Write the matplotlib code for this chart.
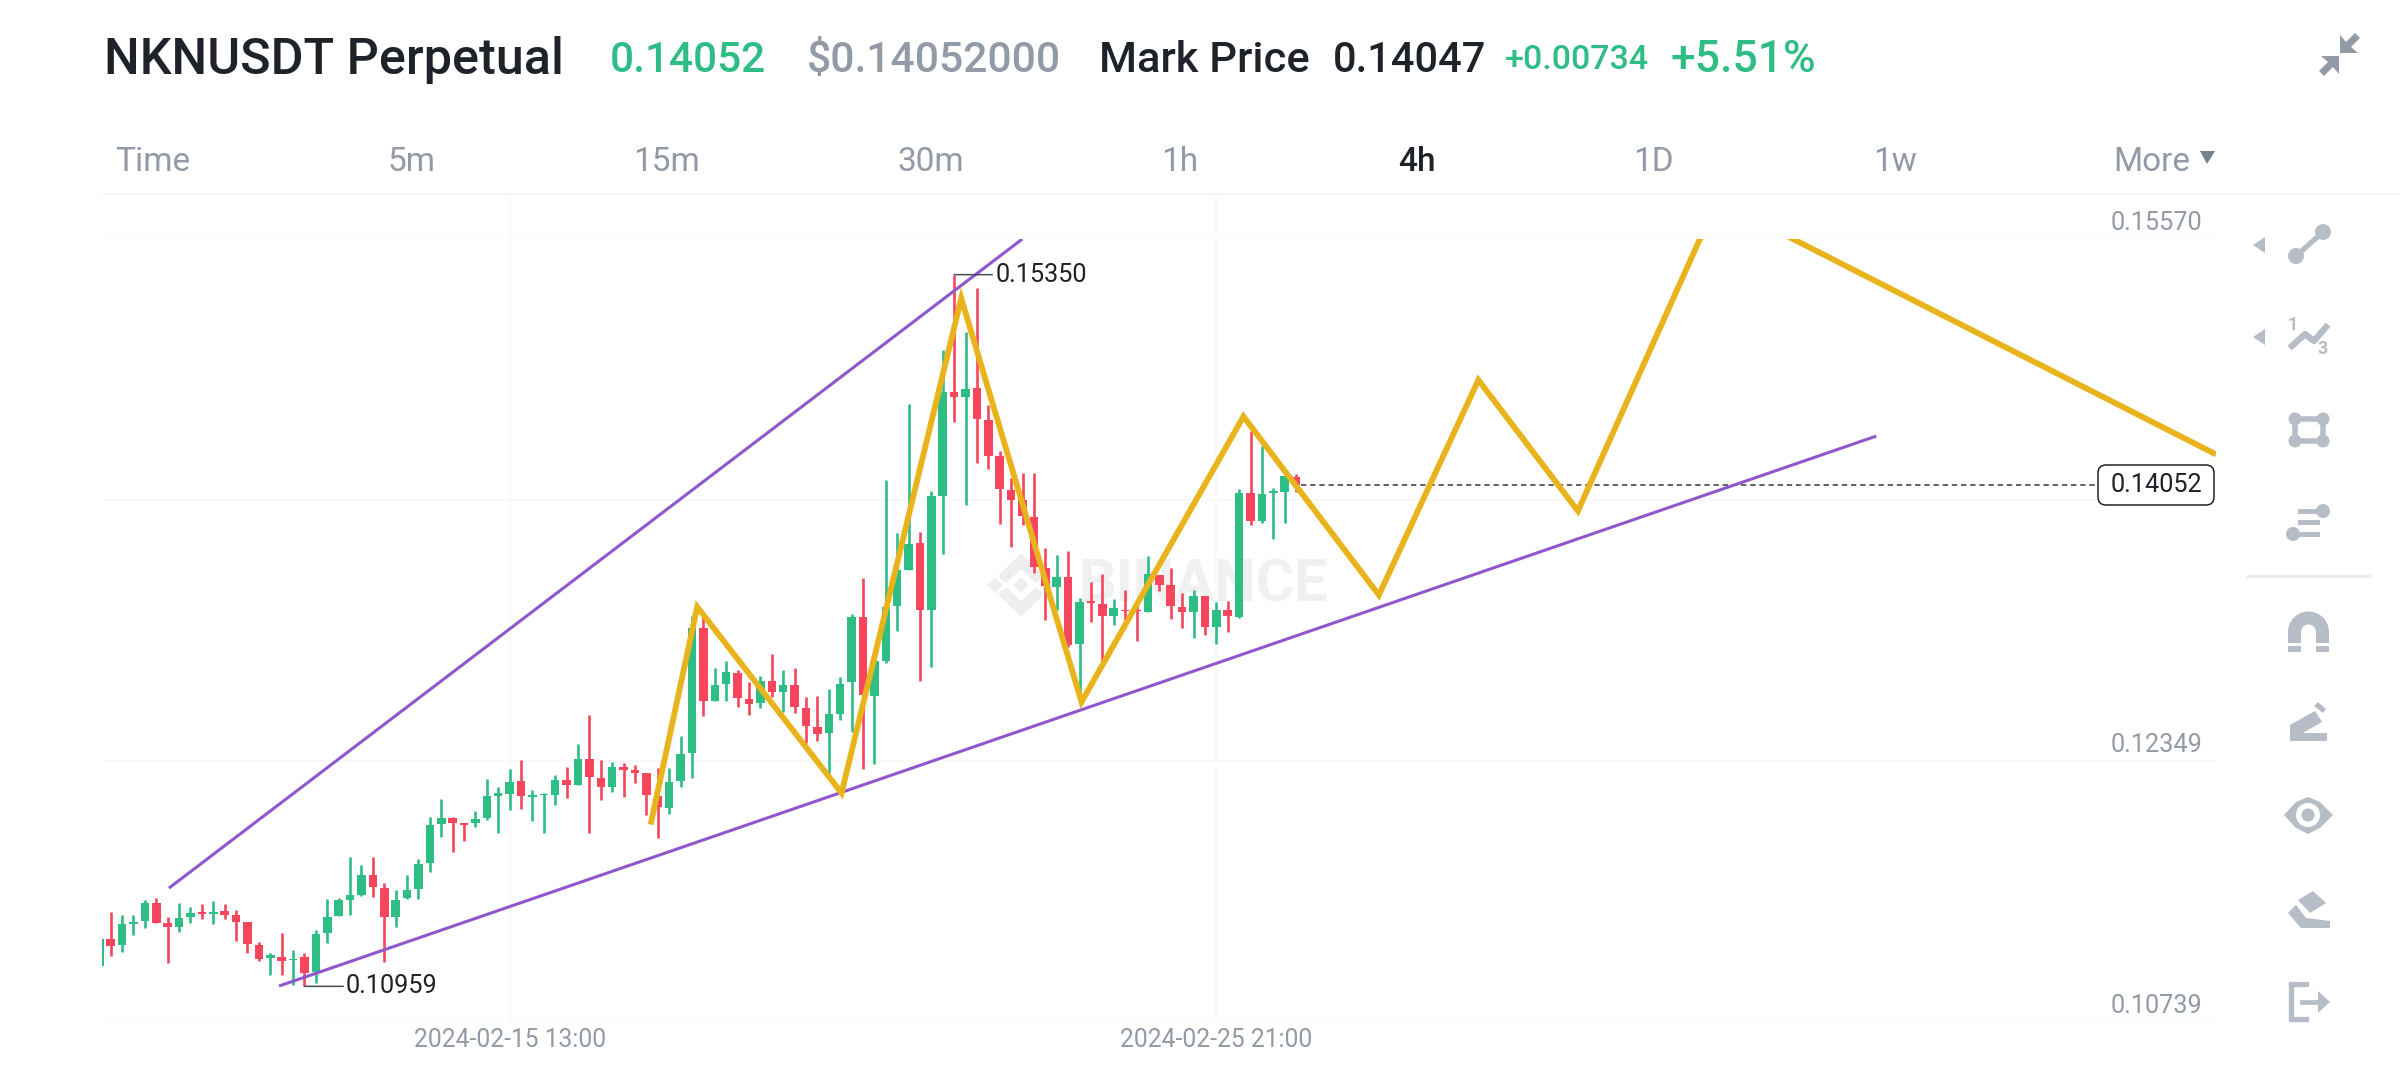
import numpy as np
import matplotlib
matplotlib.use("Agg")
import matplotlib.pyplot as plt
from matplotlib.patches import Circle, Polygon, Rectangle, Wedge, FancyBboxPatch

plt.rcParams["font.family"] = ["Roboto", "DejaVu Sans"]

GREEN = "#2ebd85"
RED = "#f6465d"
YELLOW = "#e9b31c"
PURPLE = "#9056cc"
INK = "#1e2329"
GRAY = "#929aa5"
ICON = "#b7bdc6"
GRID = "#f8f8f8"

# 4h candles, the first one is cut off by the left edge
opens = [
    0.11084,
    0.11249, 0.11212, 0.11345, 0.11362, 0.11473, 0.11347, 0.11325, 0.11386, 0.11415, 0.11407,
    0.11421, 0.11401, 0.11358, 0.11216, 0.11136, 0.11140, 0.11119, 0.11138, 0.11047, 0.11290,
    0.11392, 0.11491, 0.11522, 0.11647, 0.11567, 0.11388, 0.11501, 0.11557, 0.11717, 0.11962,
    0.11999, 0.11966, 0.11966, 0.11999, 0.12134, 0.12147, 0.12223, 0.12128, 0.12138, 0.12142,
    0.12231, 0.12204, 0.12364, 0.12243, 0.12192, 0.12313, 0.12292, 0.12278, 0.12136, 0.12062,
    0.12223, 0.12399, 0.13170, 0.12718, 0.12827, 0.12894, 0.12732, 0.12705, 0.12845, 0.12773,
    0.12818, 0.12679, 0.12557, 0.12522, 0.12640, 0.12835, 0.13235, 0.12748, 0.12964, 0.13307,
    0.13529, 0.13694, 0.13283, 0.13985, 0.14627, 0.14594, 0.14653, 0.14452, 0.14232, 0.14022,
    0.13957, 0.13854, 0.13539, 0.13422, 0.13484, 0.13071, 0.13337, 0.13320, 0.13242, 0.13283,
    0.13283, 0.13267, 0.13499, 0.13435, 0.13302, 0.13267, 0.13366, 0.13174, 0.13279, 0.13238,
    0.14001, 0.13832, 0.14003, 0.14007, 0.14099,
]
highs = [
    0.11249,
    0.11419, 0.11397, 0.11397, 0.11489, 0.11501, 0.11386, 0.11473, 0.11448, 0.11466, 0.11483,
    0.11466, 0.11427, 0.11358, 0.11232, 0.11164, 0.11290, 0.11183, 0.11166, 0.11306, 0.11499,
    0.11505, 0.11758, 0.11705, 0.11758, 0.11598, 0.11555, 0.11649, 0.11746, 0.12005, 0.12116,
    0.12003, 0.11968, 0.12038, 0.12241, 0.12190, 0.12297, 0.12356, 0.12173, 0.12149, 0.12264,
    0.12311, 0.12453, 0.12634, 0.12358, 0.12342, 0.12334, 0.12325, 0.12278, 0.12307, 0.12307,
    0.12502, 0.13242, 0.13252, 0.12921, 0.12966, 0.12909, 0.12837, 0.12872, 0.13009, 0.12913,
    0.12925, 0.12744, 0.12748, 0.12794, 0.12868, 0.13256, 0.13476, 0.12964, 0.14084, 0.13755,
    0.14553, 0.13761, 0.14018, 0.14885, 0.15350, 0.14994, 0.15266, 0.14546, 0.14259, 0.14094,
    0.14125, 0.14125, 0.13663, 0.13622, 0.13642, 0.13355, 0.13454, 0.13505, 0.13349, 0.13407,
    0.13324, 0.13616, 0.13499, 0.13540, 0.13386, 0.13407, 0.13366, 0.13331, 0.13335, 0.14027,
    0.14383, 0.14290, 0.14033, 0.14105, 0.14122,
]
lows = [
    0.11084,
    0.11146, 0.11171, 0.11275, 0.11321, 0.11349, 0.11101, 0.11294, 0.11351, 0.11376, 0.11343,
    0.11372, 0.11240, 0.11166, 0.11117, 0.11029, 0.11029, 0.10967, 0.10959, 0.10981, 0.11228,
    0.11392, 0.11401, 0.11518, 0.11510, 0.11107, 0.11325, 0.11495, 0.11495, 0.11664, 0.11882,
    0.11787, 0.11855, 0.11943, 0.11984, 0.11906, 0.12050, 0.12056, 0.11982, 0.11906, 0.12079,
    0.12124, 0.12204, 0.11906, 0.12110, 0.12161, 0.12130, 0.12214, 0.12015, 0.11875, 0.12025,
    0.12188, 0.12245, 0.12625, 0.12718, 0.12718, 0.12681, 0.12635, 0.12677, 0.12744, 0.12650,
    0.12646, 0.12461, 0.12471, 0.12276, 0.12605, 0.12527, 0.12303, 0.12331, 0.12954, 0.13149,
    0.13529, 0.12841, 0.12929, 0.13628, 0.14438, 0.13930, 0.14187, 0.14152, 0.13811, 0.13667,
    0.13803, 0.13509, 0.13217, 0.13283, 0.13050, 0.12748, 0.13205, 0.12955, 0.13191, 0.13205,
    0.13088, 0.13267, 0.13396, 0.13226, 0.13168, 0.13111, 0.13125, 0.13074, 0.13144, 0.13232,
    0.13803, 0.13816, 0.13721, 0.13818, 0.14007,
]
closes = [
    0.11249,
    0.11207, 0.11341, 0.11358, 0.11471, 0.11349, 0.11325, 0.11382, 0.11413, 0.11403, 0.11419,
    0.11399, 0.11358, 0.11220, 0.11129, 0.11150, 0.11115, 0.11129, 0.11043, 0.11284, 0.11388,
    0.11489, 0.11520, 0.11647, 0.11571, 0.11388, 0.11491, 0.11553, 0.11711, 0.11956, 0.11999,
    0.11964, 0.11953, 0.11993, 0.12136, 0.12149, 0.12221, 0.12132, 0.12138, 0.12147, 0.12231,
    0.12204, 0.12364, 0.12251, 0.12192, 0.12311, 0.12294, 0.12278, 0.12142, 0.12064, 0.12221,
    0.12395, 0.13170, 0.12718, 0.12818, 0.12896, 0.12740, 0.12703, 0.12841, 0.12775, 0.12820,
    0.12681, 0.12563, 0.12518, 0.12637, 0.12827, 0.13235, 0.12755, 0.12964, 0.13299, 0.13525,
    0.13689, 0.13283, 0.13987, 0.14629, 0.14596, 0.14647, 0.14458, 0.14234, 0.14027, 0.13957,
    0.13858, 0.13544, 0.13426, 0.13484, 0.13067, 0.13330, 0.13324, 0.13246, 0.13294, 0.13273,
    0.13273, 0.13501, 0.13437, 0.13304, 0.13267, 0.13366, 0.13176, 0.13281, 0.13242, 0.14003,
    0.13830, 0.13998, 0.14013, 0.14105, 0.14052,
]

# drawing tools on top of the chart: x is a candle number, y a price
wave_x = [47.37, 51.46, 64.12, 74.62, 85.17, 99.38, 111.26, 119.99, 128.72, 140.94, 184.70]
wave_y = [0.11957, 0.13300, 0.12152, 0.15204, 0.12714, 0.14475, 0.13373, 0.14700, 0.13892, 0.15808, 0.14241]
upper_x = [5.11, 79.98]
upper_y = [0.11565, 0.15570]
lower_x = [14.77, 154.90]
lower_y = [0.10961, 0.14354]

price_ticks = [0.10739, 0.12349, 0.13960, 0.15570]
price_labels = ["0.10739", "0.12349", "", "0.15570"]
date_ticks = [35, 97]
date_labels = ["2024-02-15 13:00", "2024-02-25 21:00"]
periods = ["Time", "5m", "15m", "30m", "1h", "4h", "1D", "1w", "More"]
period_x = [153, 412, 667, 931, 1180, 1417, 1653, 1895, 2152]

W, H = 2400, 1080
fig = plt.figure(figsize=(W / 100, H / 100), dpi=100, facecolor="white")

# screen furniture in pixel coordinates, kept underneath the chart
ui = fig.add_axes([0, 0, 1, 1], zorder=0)
ui.set_xlim(0, W)
ui.set_ylim(H, 0)
ui.axis("off")

ui.text(104, 60, "NKNUSDT Perpetual", fontsize=36.3, color=INK, va="center", fontweight="medium")
ui.text(610, 60, "0.14052", fontsize=30.5, color=GREEN, va="center", fontweight="medium")
ui.text(807, 60, "$0.14052000", fontsize=30.7, color=GRAY, va="center", fontweight="medium")
ui.text(1099, 60, "Mark Price", fontsize=31.3, color=INK, va="center", fontweight="medium")
ui.text(1333, 60, "0.14047", fontsize=30, color=INK, va="center", fontweight="medium")
ui.text(1505, 60, "+0.00734", fontsize=24.5, color=GREEN, va="center", fontweight="medium")
ui.text(1670, 60, "+5.51%", fontsize=32, color=GREEN, va="center", fontweight="medium")

for name, px in zip(periods, period_x):
    active = name == "4h"
    ui.text(px, 162, name, fontsize=24, ha="center", va="center",
            color=INK if active else GRAY, fontweight="medium" if active else "normal")
ui.add_patch(Polygon([(2200, 151), (2215, 151), (2207, 164)], color="#76808f", lw=0))
ui.plot([103, W], [193.5, 193.5], color="#f0f1f2", lw=1.2)

# collapse arrows, top right
ui.add_patch(Polygon([(2340, 53), (2340, 35), (2346, 42), (2355, 33), (2360, 38), (2351, 47), (2358, 53)],
                     color=GRAY, lw=0))
ui.add_patch(Polygon([(2339, 56), (2339, 74), (2333, 67), (2324, 76), (2319, 71), (2328, 62), (2321, 56)],
                     color=GRAY, lw=0))

# watermark
logo = "#eceef0"
for cx, cy, r in [(995, 585, 8), (1021, 585, 8), (1047, 585, 8)]:
    ui.add_patch(Polygon([(cx - r, cy), (cx, cy - r), (cx + r, cy), (cx, cy + r)], color=logo, lw=0))
ui.add_patch(Polygon([(1021, 553), (1044, 576), (1036, 583), (1021, 569), (1006, 583), (998, 576)], color=logo, lw=0))
ui.add_patch(Polygon([(1021, 617), (1044, 594), (1036, 587), (1021, 601), (1006, 587), (998, 594)], color=logo, lw=0))
ui.text(1078, 585, "BINANCE", fontsize=42.5, fontweight="bold", color="#eff0f1", va="center")

# toolbar, right side
for y in (245, 337):
    ui.add_patch(Polygon([(2253, y), (2265, y - 8), (2265, y + 8)], color=ICON, lw=0))
ui.plot([2296, 2323], [256, 232], color=ICON, lw=3.8)
ui.add_patch(Circle((2296, 256), 8, color=ICON, lw=0))
ui.add_patch(Circle((2323, 232), 8, color=ICON, lw=0))

ui.plot([2292, 2305, 2314, 2326], [346, 334, 341, 327], color=ICON, lw=4.6)
ui.text(2293, 325, "1", fontsize=13, fontweight="bold", color=ICON, ha="center", va="center")
ui.text(2323, 349, "3", fontsize=13, fontweight="bold", color=ICON, ha="center", va="center")

ui.add_patch(Rectangle((2295, 419), 28, 22, fill=False, ec=ICON, lw=4))
for cx in (2295, 2323):
    for cy in (419, 441):
        ui.add_patch(Circle((cx, cy), 6.5, color=ICON, lw=0))

ui.plot([2300, 2323], [511, 511], color=ICON, lw=3.6)
ui.add_patch(Circle((2323, 511), 7, color=ICON, lw=0))
ui.plot([2300, 2317], [522, 522], color=ICON, lw=3.6)
ui.plot([2293, 2317], [534, 534], color=ICON, lw=3.6)
ui.add_patch(Circle((2293, 534), 7, color=ICON, lw=0))

ui.plot([2248, 2369], [576, 576], color="#eaecef", lw=2.4)

ui.add_patch(Wedge((2308.5, 632), 20.5, 180, 360, width=13, color=ICON, lw=0))
ui.add_patch(Rectangle((2288, 632), 13, 11, color=ICON, lw=0))
ui.add_patch(Rectangle((2316, 632), 13, 11, color=ICON, lw=0))
ui.add_patch(Rectangle((2288, 646), 13, 6, color=ICON, lw=0))
ui.add_patch(Rectangle((2316, 646), 13, 6, color=ICON, lw=0))

ui.add_patch(Polygon([(2290, 741), (2290, 725), (2315, 711), (2322, 722), (2303, 733), (2327, 733), (2327, 741)],
                     color=ICON, lw=0))
ui.add_patch(Polygon([(2314, 706), (2318, 702), (2326, 709), (2323, 713)], color=ICON, lw=0))

ui.add_patch(Polygon([(2284, 815), (2296, 802), (2308, 797), (2320, 802), (2333, 815), (2320, 828), (2308, 834), (2296, 828)],
                     color=ICON, lw=0))
ui.add_patch(Circle((2308, 815), 12, color="white", lw=0))
ui.add_patch(Circle((2308, 815), 6.5, color=ICON, lw=0))

ui.add_patch(Polygon([(2313, 891), (2326, 903), (2310, 913), (2298, 900)], color=ICON, lw=0))
ui.add_patch(Polygon([(2288, 913), (2296, 905), (2306, 918), (2330, 921), (2330, 928), (2301, 928)], color=ICON, lw=0))

ui.plot([2306, 2291, 2291, 2306], [984, 984, 1019, 1019], color=ICON, lw=3.8, solid_joinstyle="miter")
ui.plot([2302, 2319], [1002, 1002], color=ICON, lw=3.4)
ui.add_patch(Polygon([(2318, 991), (2330, 1002), (2318, 1013)], color=ICON, lw=0))

# chart: 11.4 px per candle, price scale is linear
ax = fig.add_axes([102.46 / W, (H - 1022) / H, (2216 - 102.46) / W, (1022 - 239) / H], zorder=1)
ax.patch.set_alpha(0)
for s in ax.spines.values():
    s.set_visible(False)

x = np.arange(len(opens)) - 1
o, h, l, c = map(np.array, (opens, highs, lows, closes))
colors = [GREEN if ci >= oi else RED for oi, ci in zip(o, c)]

ax.vlines(x, l, h, colors=colors, lw=1.9, zorder=3)
ax.bar(x, np.abs(c - o), 0.75, bottom=np.minimum(o, c), color=colors, lw=0, zorder=3)

ax.set_xlim(-0.72, 184.7)
ax.set_ylim(price_ticks[0], price_ticks[-1])

ax.set_yticks(price_ticks)
ax.set_xticks(date_ticks)
ax.set_xticklabels(date_labels, fontsize=17.7, color=GRAY)
ax.tick_params(axis="both", length=0)
ax.tick_params(axis="x", pad=4)
ax.tick_params(axis="y", labelleft=False)
ax.grid(axis="y", color=GRID, lw=1.1, zorder=0)
# vertical grid lines run up to the period bar
ax.vlines(date_ticks, 0, (1022 - 193) / (1022 - 239), transform=ax.get_xaxis_transform(),
          colors=GRID, lw=1.1, zorder=0, clip_on=False)

for val, txt in zip(price_ticks, price_labels):
    ax.annotate(txt, xy=(1, val), xycoords=("axes fraction", "data"), xytext=(-10, 3),
                textcoords="offset points", ha="right", va="bottom", fontsize=18.2, color=GRAY)

ax.plot(lower_x, lower_y, color=PURPLE, lw=2.2, zorder=4, solid_capstyle="butt")
ax.plot(upper_x, upper_y, color=PURPLE, lw=2.2, zorder=4, solid_capstyle="butt")
ax.plot(wave_x, wave_y, color=YELLOW, lw=4.2, zorder=5, solid_capstyle="butt", solid_joinstyle="miter")

# highest and lowest price markers
top = h.argmax()
bot = l.argmin()
ax.annotate(f"{h[top]:.5f}", xy=(x[top], h[top]), xytext=(29.5, 0), textcoords="offset points",
            fontsize=18.2, color=INK, va="center", ha="left", zorder=6,
            arrowprops=dict(arrowstyle="-", color="#474d57", lw=1.1, shrinkA=0, shrinkB=0))
ax.annotate(f"{l[bot]:.5f}", xy=(x[bot], l[bot]), xytext=(30, 0), textcoords="offset points",
            fontsize=18.2, color=INK, va="center", ha="left", zorder=6,
            arrowprops=dict(arrowstyle="-", color="#474d57", lw=1.1, shrinkA=0, shrinkB=0))

# last price line and tag
last = c[-1]
ax.plot([x[-1] + 0.4, 174.3], [last, last], color="#333840", lw=1.1, ls=(0, (3.5, 2.5)), zorder=2)
ax.add_patch(FancyBboxPatch((2104, H - 499), 104, 28, boxstyle="round,pad=6,rounding_size=8",
                            fc="white", ec=INK, lw=1.1, transform=None, zorder=7, clip_on=False))
ax.annotate(f"{last:.5f}", xy=(1, last), xycoords=("axes fraction", "data"), xytext=(-10, 0),
            textcoords="offset points", ha="right", va="center", fontsize=18.2, color=INK, zorder=8)

fig.savefig("out.png", dpi=100)
